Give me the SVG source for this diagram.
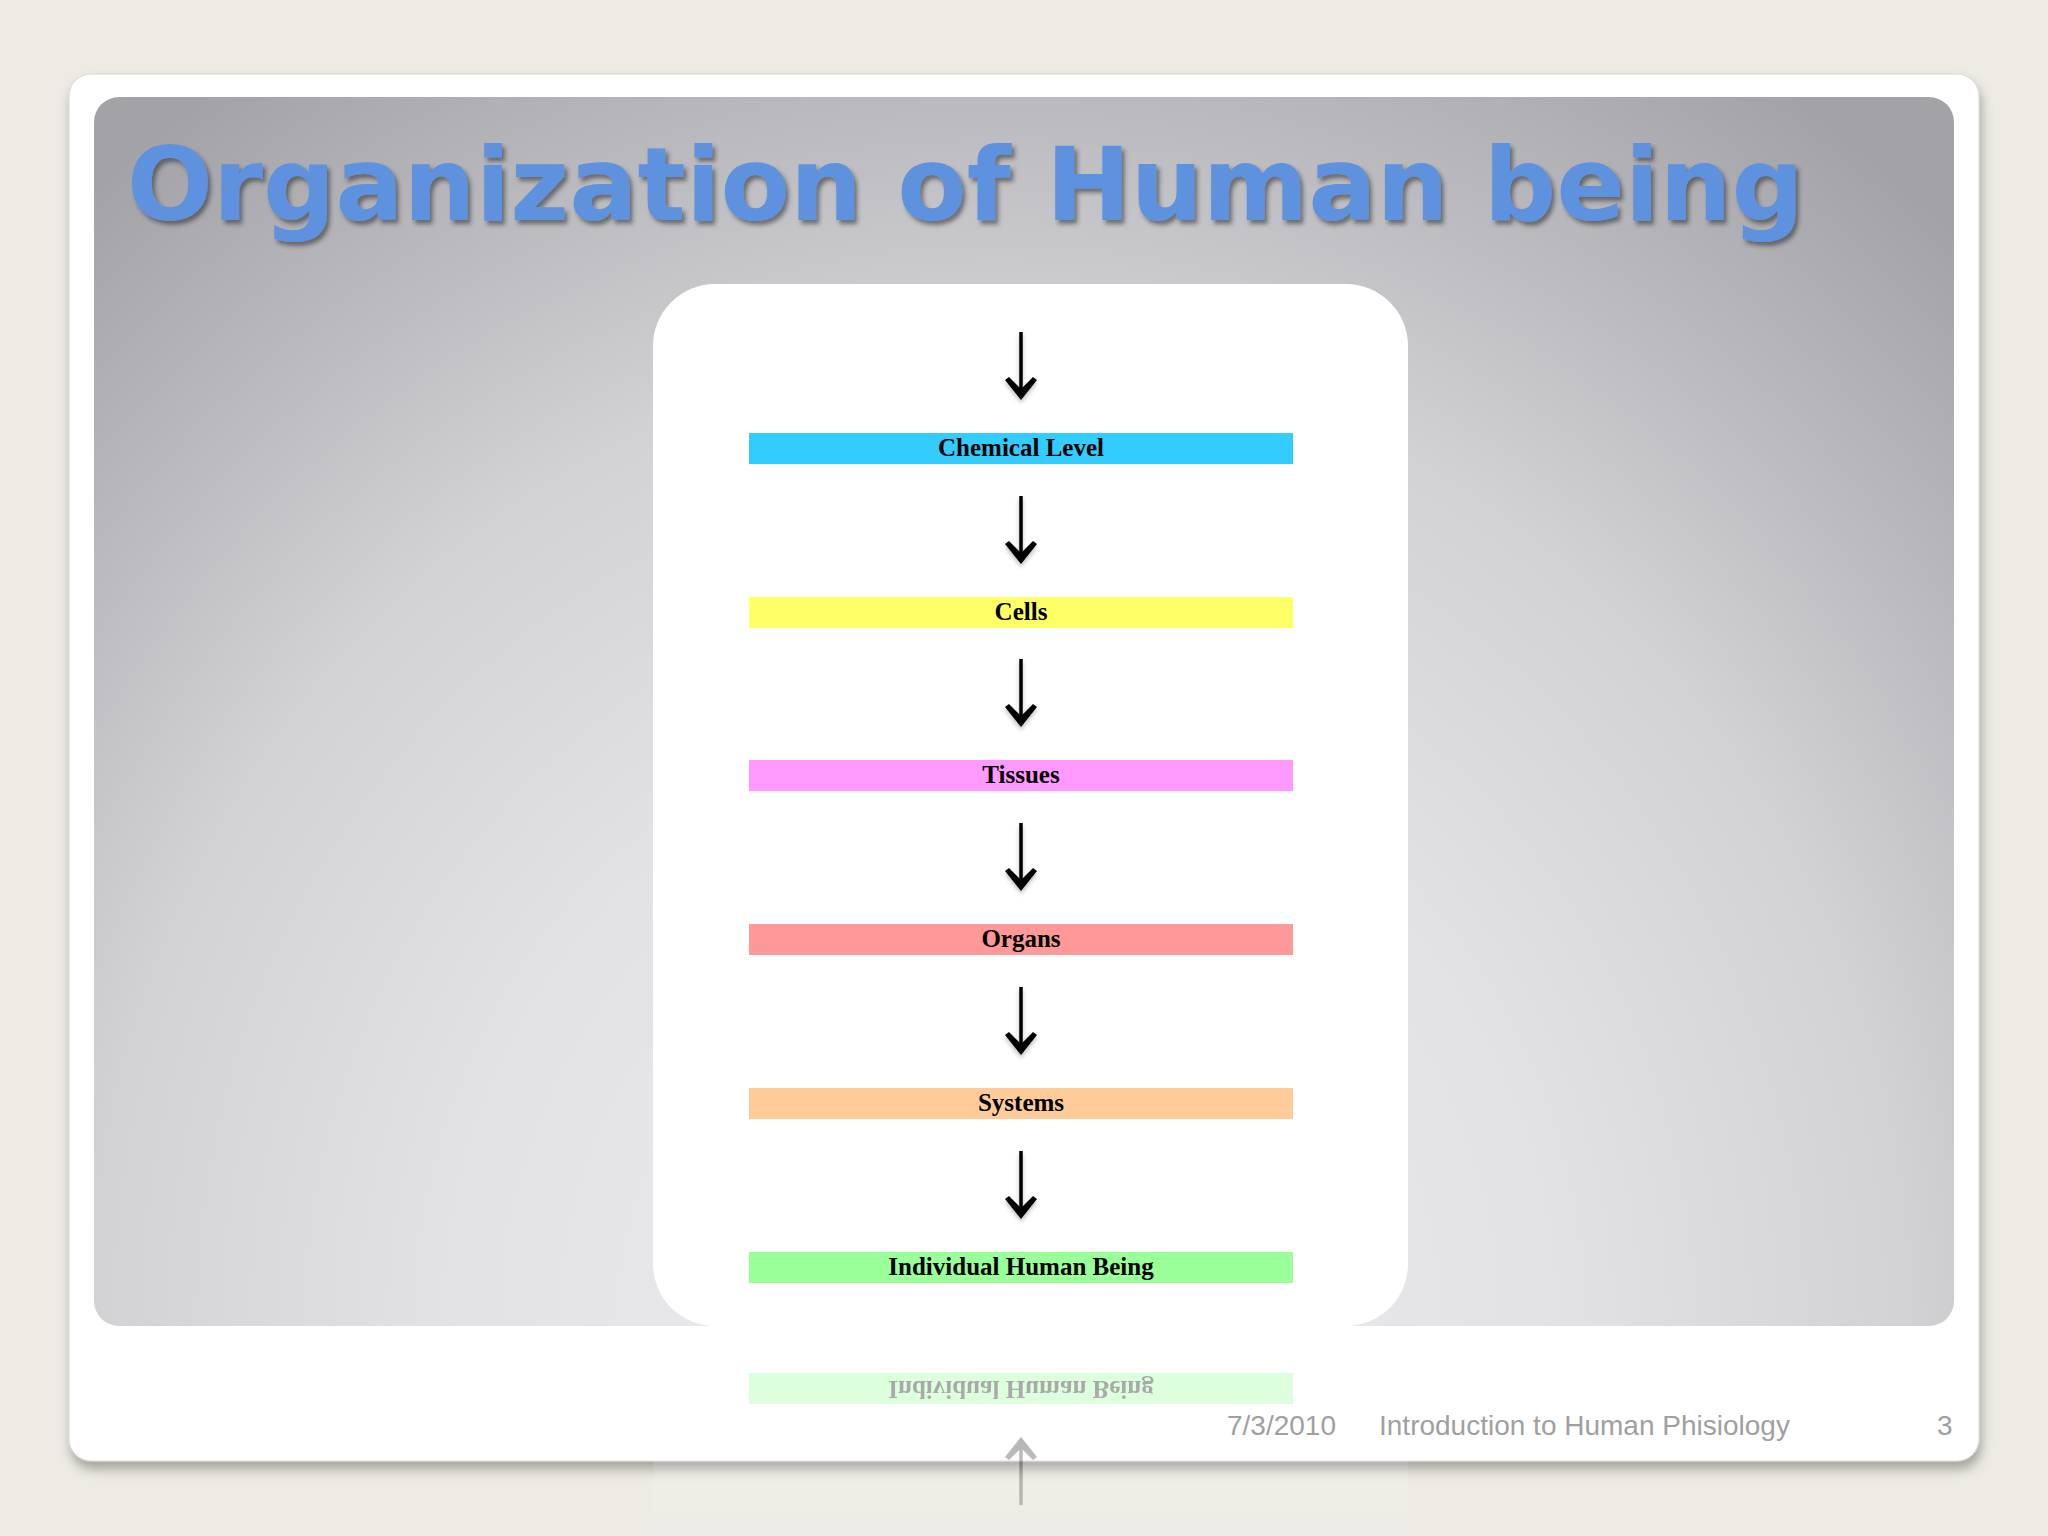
<svg xmlns="http://www.w3.org/2000/svg" width="2048" height="1536" viewBox="0 0 2048 1536">
<style>
.bar-label{font-family:"Liberation Serif","Times New Roman",serif;font-weight:bold;font-size:25px;fill:#000;text-anchor:middle}
.footer{font-family:"Liberation Sans",Arial,sans-serif;font-size:28px;fill:#a0a0a0}
.title{font-family:"DejaVu Sans",Verdana,sans-serif;font-weight:bold;font-size:102px;fill:#5e92de}
.conn{stroke:#000;stroke-width:3.5;fill:none}
</style>
<defs>
<radialGradient id="pg" gradientUnits="userSpaceOnUse" cx="1000" cy="1330" r="1500" gradientTransform="translate(1000 1330) scale(0.933 1) translate(-1000 -1330)">
<stop offset="0" stop-color="#eeeef0"/>
<stop offset="0.4" stop-color="#e2e2e5"/>
<stop offset="0.65" stop-color="#d2d2d5"/>
<stop offset="0.8" stop-color="#bdbdc1"/>
<stop offset="1" stop-color="#a3a2a7"/>
</radialGradient>
<linearGradient id="rg" gradientUnits="userSpaceOnUse" x1="0" y1="1326" x2="0" y2="1520">
<stop offset="0" stop-color="#fff" stop-opacity="0.4"/>
<stop offset="1" stop-color="#fff" stop-opacity="0.2"/>
</linearGradient>
<mask id="rm" maskUnits="userSpaceOnUse" x="0" y="1320" width="2048" height="216">
<rect x="0" y="1320" width="2048" height="216" fill="url(#rg)"/>
</mask>
<filter id="cardShadow" x="-5%" y="-5%" width="110%" height="112%">
<feDropShadow dx="2" dy="8" stdDeviation="6" flood-color="#000" flood-opacity="0.3"/>
</filter>
<filter id="titleShadow" x="-5%" y="-20%" width="110%" height="140%">
<feDropShadow dx="3" dy="4" stdDeviation="2" flood-color="#2a2a2a" flood-opacity="0.55"/>
</filter>
<filter id="arrowShadow" filterUnits="userSpaceOnUse" x="600" y="300" width="900" height="1000">
<feDropShadow dx="0" dy="3" stdDeviation="2" flood-color="#000" flood-opacity="0.25"/>
</filter>
<marker id="ah" markerUnits="userSpaceOnUse" viewBox="-4 -18 26 36" refX="10" refY="0" markerWidth="26" markerHeight="36" orient="auto" overflow="visible">
<path d="M20,0 L0,-16 L-3,-12 L9,0 L-3,12 L0,16 Z" fill="#000"/>
</marker>
</defs>

<rect x="0" y="0" width="2048" height="1536" fill="#edebe4"/>

<g id="slide">
<rect x="69" y="74" width="1910" height="1387" rx="22" fill="#fff" stroke="#d6d6d6" stroke-width="1" filter="url(#cardShadow)"/>
<rect x="94" y="97" width="1860" height="1229" rx="25" fill="url(#pg)"/>
</g>

<text id="title" class="title" x="127" y="220" textLength="1677" lengthAdjust="spacingAndGlyphs" filter="url(#titleShadow)">Organization of Human being</text>

<g id="diagram-box">
<rect x="653" y="284" width="755" height="1042" rx="62" fill="#fff"/>
</g>

<g id="node-chemical">
<rect x="749" y="433" width="544" height="31" fill="#33ccff"/>
<text class="bar-label" x="1021" y="456">Chemical Level</text>
</g>
<g id="node-cells">
<rect x="749" y="597" width="544" height="31" fill="#ffff66"/>
<text class="bar-label" x="1021" y="620">Cells</text>
</g>
<g id="node-tissues">
<rect x="749" y="760" width="544" height="31" fill="#ff99ff"/>
<text class="bar-label" x="1021" y="783">Tissues</text>
</g>
<g id="node-organs">
<rect x="749" y="924" width="544" height="31" fill="#ff9999"/>
<text class="bar-label" x="1021" y="947">Organs</text>
</g>
<g id="node-systems">
<rect x="749" y="1088" width="544" height="31" fill="#ffcc99"/>
<text class="bar-label" x="1021" y="1111">Systems</text>
</g>
<g id="node-individual">
<rect x="749" y="1252" width="544" height="31" fill="#99ff99"/>
<text class="bar-label" x="1021" y="1275">Individual Human Being</text>
</g>

<g id="connectors" filter="url(#arrowShadow)">
<line class="conn" x1="1021" y1="332" x2="1021" y2="390" marker-end="url(#ah)"/>
<line class="conn" x1="1021" y1="496" x2="1021" y2="554" marker-end="url(#ah)"/>
<line class="conn" x1="1021" y1="659" x2="1021" y2="717" marker-end="url(#ah)"/>
<line class="conn" x1="1021" y1="823" x2="1021" y2="881" marker-end="url(#ah)"/>
<line class="conn" x1="1021" y1="987" x2="1021" y2="1045" marker-end="url(#ah)"/>
<line class="conn" x1="1021" y1="1151" x2="1021" y2="1209" marker-end="url(#ah)"/>
</g>

<g id="reflection" mask="url(#rm)">
<rect x="653" y="1326" width="755" height="210" fill="#fff" fill-opacity="0.45"/>
<g transform="matrix(1 0 0 -1 0 2656)">
<rect x="749" y="1252" width="544" height="31" fill="#99ff99"/>
<text class="bar-label" x="1021" y="1275">Individual Human Being</text>
<line class="conn" x1="1021" y1="1151" x2="1021" y2="1209" marker-end="url(#ah)"/>
</g>
</g>

<g id="footer">
<text class="footer" x="1227" y="1435">7/3/2010</text>
<text class="footer" x="1379" y="1435">Introduction to Human Phisiology</text>
<text class="footer" x="1937" y="1435">3</text>
</g>
</svg>
